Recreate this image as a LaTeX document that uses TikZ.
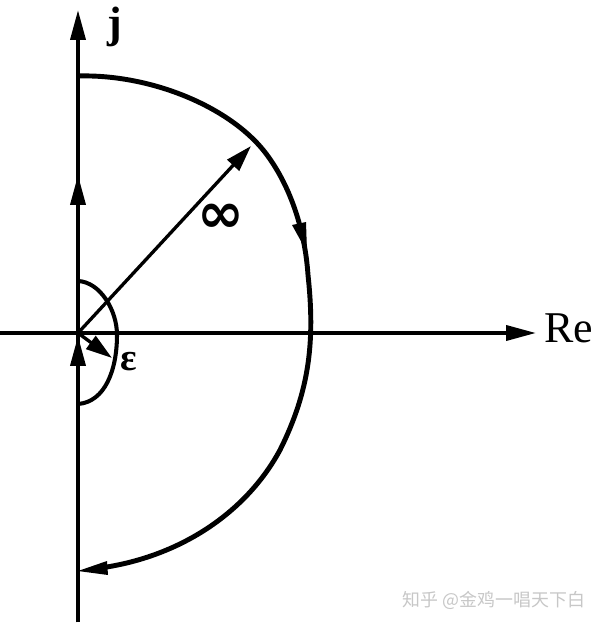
\documentclass[tikz,border=0pt]{standalone}
\usepackage{fontspec}
\setmainfont{Liberation Serif}
\newfontfamily\cjk{Noto Sans CJK SC}
\newfontfamily\sym{DejaVu Sans}
\usetikzlibrary{arrows.meta}
\tikzset{
  axis/.style={line width=2.1pt,-{Triangle[length=17pt,width=8.5pt]}},
  ray/.style={line width=1.9pt,-{Triangle[length=15pt,width=9pt]}},
  contour/.style={line width=2.8pt},
  small contour/.style={line width=2.3pt},
  axislabel/.style={font=\fontsize{25}{25}\selectfont,inner sep=0pt},
  raylabel/.style={inner sep=0pt},
  tip/.style={fill=black,draw=none}
}
\begin{document}
\begin{tikzpicture}[x=.02cm,y=-.02cm]
      \useasboundingbox (0,0) rectangle (600,625);
      \coordinate (origin) at (78,333);
      \coordinate (bottom) at (78,622);
      \coordinate (top) at (78,10);
      \coordinate (mid up) at (78,175);
      \coordinate (low up) at (78,336);
      \coordinate (left) at (0,333);
      \coordinate (right) at (536,333);
      \coordinate (far) at (251,146);
      \coordinate (near) at (112,358);

      \draw[axis] (bottom) -- (top);
      \draw[axis] (bottom) -- (mid up);
      \draw[axis] (bottom) -- (low up);
      \draw[axis] (left) -- (right);
      \draw[ray] (origin) -- (far);
      \draw[ray] (origin) -- (near);

      % large arc
      \draw[contour] (78,76) .. controls (150,74) and (228,106) .. (264,151)
        .. controls (290,184) and (305,230) .. (308,275)
        .. controls (315,340) and (310,390) .. (280,450)
        .. controls (245,515) and (175,560) .. (92,569);
      \fill[tip] (292,225) -- (306,222) -- (307,252) -- cycle;
      \fill[tip] (78,571) -- (107,561) -- (108,575) -- cycle;

      % small arc
      \draw[small contour] (78,281) .. controls (100,282) and (117,310) .. (117,335)
        .. controls (117,370) and (105,402) .. (78,404);

      \node[axislabel,font=\bfseries\fontsize{25}{25}\selectfont] (j) at (115,27) {j};
      \node[axislabel,anchor=base] (re) at (569,342) {Re};
      \node[raylabel,font=\sym\bfseries\fontsize{32}{32}\selectfont] (infinity) at (221,218) {∞};
      \node[raylabel,font=\bfseries\fontsize{22}{22}\selectfont] (epsilon) at (129,362) {ε};
      \node[font=\cjk\fontsize{10.2}{10.2}\selectfont,text=black!22,inner sep=0pt] (credit) at (494,600) {知乎 @金鸡一唱天下白};
    \end{tikzpicture}
\end{document}
